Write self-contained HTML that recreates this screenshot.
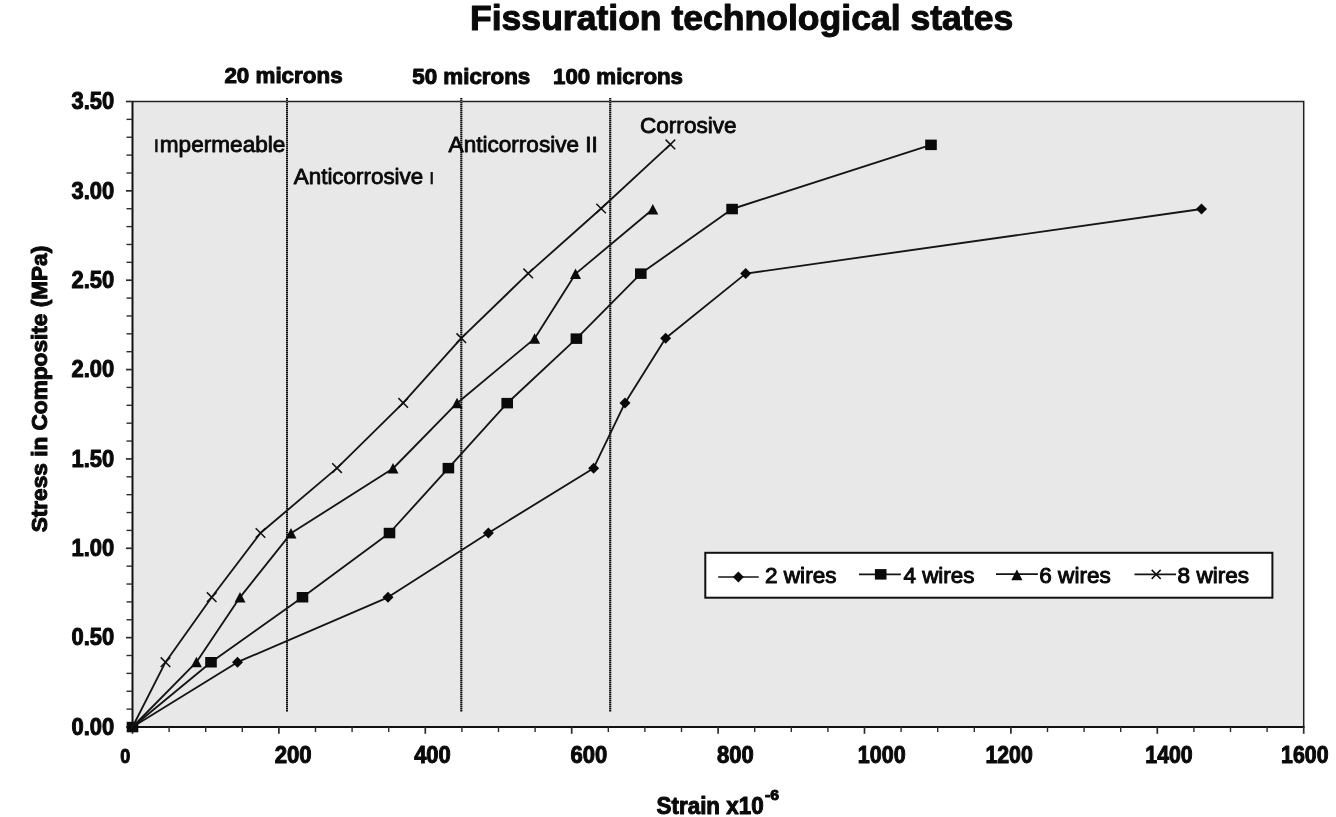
<!DOCTYPE html>
<html><head><meta charset="utf-8"><title>Fissuration technological states</title>
<style>html,body{margin:0;padding:0;background:#fff;}body{width:1336px;height:817px;overflow:hidden;}svg{display:block;filter:blur(0.45px);}text{font-family:"Liberation Sans", sans-serif;fill:#0a0a0a;stroke:#0a0a0a;stroke-width:0.85px;stroke-linejoin:round;}text.b{stroke-width:1.0px;}</style></head><body>
<svg width="1336" height="817" viewBox="0 0 1336 817">
<rect x="0" y="0" width="1336" height="817" fill="#ffffff"/>
<rect x="132.5" y="101.5" width="1171.2" height="625.5" fill="#e8e8e8"/>
<path d="M132.5,101.5 H1303.7 V727.0" fill="none" stroke="#222" stroke-width="1.5"/>
<line x1="287.0" y1="98" x2="287.0" y2="712" stroke="#707070" stroke-width="2"/>
<line x1="287.0" y1="98" x2="287.0" y2="712" stroke="#111" stroke-width="2" stroke-dasharray="1 1"/>
<line x1="461.3" y1="98" x2="461.3" y2="712" stroke="#707070" stroke-width="2"/>
<line x1="461.3" y1="98" x2="461.3" y2="712" stroke="#111" stroke-width="2" stroke-dasharray="1 1"/>
<line x1="610.2" y1="98" x2="610.2" y2="712" stroke="#707070" stroke-width="2"/>
<line x1="610.2" y1="98" x2="610.2" y2="712" stroke="#111" stroke-width="2" stroke-dasharray="1 1"/>
<line x1="132.5" y1="101.0" x2="132.5" y2="728.0" stroke="#111" stroke-width="2"/>
<line x1="131.5" y1="727.0" x2="1304.5" y2="727.0" stroke="#111" stroke-width="2"/>
<line x1="126.0" y1="727.00" x2="132.5" y2="727.00" stroke="#2c2c2c" stroke-width="1.7"/>
<line x1="126.5" y1="709.13" x2="132.5" y2="709.13" stroke="#2c2c2c" stroke-width="1.4"/>
<line x1="126.5" y1="691.26" x2="132.5" y2="691.26" stroke="#2c2c2c" stroke-width="1.4"/>
<line x1="126.5" y1="673.39" x2="132.5" y2="673.39" stroke="#2c2c2c" stroke-width="1.4"/>
<line x1="126.5" y1="655.51" x2="132.5" y2="655.51" stroke="#2c2c2c" stroke-width="1.4"/>
<line x1="126.0" y1="637.64" x2="132.5" y2="637.64" stroke="#2c2c2c" stroke-width="1.7"/>
<line x1="126.5" y1="619.77" x2="132.5" y2="619.77" stroke="#2c2c2c" stroke-width="1.4"/>
<line x1="126.5" y1="601.90" x2="132.5" y2="601.90" stroke="#2c2c2c" stroke-width="1.4"/>
<line x1="126.5" y1="584.03" x2="132.5" y2="584.03" stroke="#2c2c2c" stroke-width="1.4"/>
<line x1="126.5" y1="566.16" x2="132.5" y2="566.16" stroke="#2c2c2c" stroke-width="1.4"/>
<line x1="126.0" y1="548.29" x2="132.5" y2="548.29" stroke="#2c2c2c" stroke-width="1.7"/>
<line x1="126.5" y1="530.41" x2="132.5" y2="530.41" stroke="#2c2c2c" stroke-width="1.4"/>
<line x1="126.5" y1="512.54" x2="132.5" y2="512.54" stroke="#2c2c2c" stroke-width="1.4"/>
<line x1="126.5" y1="494.67" x2="132.5" y2="494.67" stroke="#2c2c2c" stroke-width="1.4"/>
<line x1="126.5" y1="476.80" x2="132.5" y2="476.80" stroke="#2c2c2c" stroke-width="1.4"/>
<line x1="126.0" y1="458.93" x2="132.5" y2="458.93" stroke="#2c2c2c" stroke-width="1.7"/>
<line x1="126.5" y1="441.06" x2="132.5" y2="441.06" stroke="#2c2c2c" stroke-width="1.4"/>
<line x1="126.5" y1="423.19" x2="132.5" y2="423.19" stroke="#2c2c2c" stroke-width="1.4"/>
<line x1="126.5" y1="405.31" x2="132.5" y2="405.31" stroke="#2c2c2c" stroke-width="1.4"/>
<line x1="126.5" y1="387.44" x2="132.5" y2="387.44" stroke="#2c2c2c" stroke-width="1.4"/>
<line x1="126.0" y1="369.57" x2="132.5" y2="369.57" stroke="#2c2c2c" stroke-width="1.7"/>
<line x1="126.5" y1="351.70" x2="132.5" y2="351.70" stroke="#2c2c2c" stroke-width="1.4"/>
<line x1="126.5" y1="333.83" x2="132.5" y2="333.83" stroke="#2c2c2c" stroke-width="1.4"/>
<line x1="126.5" y1="315.96" x2="132.5" y2="315.96" stroke="#2c2c2c" stroke-width="1.4"/>
<line x1="126.5" y1="298.09" x2="132.5" y2="298.09" stroke="#2c2c2c" stroke-width="1.4"/>
<line x1="126.0" y1="280.21" x2="132.5" y2="280.21" stroke="#2c2c2c" stroke-width="1.7"/>
<line x1="126.5" y1="262.34" x2="132.5" y2="262.34" stroke="#2c2c2c" stroke-width="1.4"/>
<line x1="126.5" y1="244.47" x2="132.5" y2="244.47" stroke="#2c2c2c" stroke-width="1.4"/>
<line x1="126.5" y1="226.60" x2="132.5" y2="226.60" stroke="#2c2c2c" stroke-width="1.4"/>
<line x1="126.5" y1="208.73" x2="132.5" y2="208.73" stroke="#2c2c2c" stroke-width="1.4"/>
<line x1="126.0" y1="190.86" x2="132.5" y2="190.86" stroke="#2c2c2c" stroke-width="1.7"/>
<line x1="126.5" y1="172.99" x2="132.5" y2="172.99" stroke="#2c2c2c" stroke-width="1.4"/>
<line x1="126.5" y1="155.11" x2="132.5" y2="155.11" stroke="#2c2c2c" stroke-width="1.4"/>
<line x1="126.5" y1="137.24" x2="132.5" y2="137.24" stroke="#2c2c2c" stroke-width="1.4"/>
<line x1="126.5" y1="119.37" x2="132.5" y2="119.37" stroke="#2c2c2c" stroke-width="1.4"/>
<line x1="126.0" y1="101.50" x2="132.5" y2="101.50" stroke="#2c2c2c" stroke-width="1.7"/>
<line x1="132.50" y1="727.0" x2="132.50" y2="733.8" stroke="#2c2c2c" stroke-width="1.7"/>
<line x1="169.10" y1="727.0" x2="169.10" y2="732.0" stroke="#2c2c2c" stroke-width="1.4"/>
<line x1="205.70" y1="727.0" x2="205.70" y2="732.0" stroke="#2c2c2c" stroke-width="1.4"/>
<line x1="242.30" y1="727.0" x2="242.30" y2="732.0" stroke="#2c2c2c" stroke-width="1.4"/>
<line x1="278.90" y1="727.0" x2="278.90" y2="733.8" stroke="#2c2c2c" stroke-width="1.7"/>
<line x1="315.50" y1="727.0" x2="315.50" y2="732.0" stroke="#2c2c2c" stroke-width="1.4"/>
<line x1="352.10" y1="727.0" x2="352.10" y2="732.0" stroke="#2c2c2c" stroke-width="1.4"/>
<line x1="388.70" y1="727.0" x2="388.70" y2="732.0" stroke="#2c2c2c" stroke-width="1.4"/>
<line x1="425.30" y1="727.0" x2="425.30" y2="733.8" stroke="#2c2c2c" stroke-width="1.7"/>
<line x1="461.90" y1="727.0" x2="461.90" y2="732.0" stroke="#2c2c2c" stroke-width="1.4"/>
<line x1="498.50" y1="727.0" x2="498.50" y2="732.0" stroke="#2c2c2c" stroke-width="1.4"/>
<line x1="535.10" y1="727.0" x2="535.10" y2="732.0" stroke="#2c2c2c" stroke-width="1.4"/>
<line x1="571.70" y1="727.0" x2="571.70" y2="733.8" stroke="#2c2c2c" stroke-width="1.7"/>
<line x1="608.30" y1="727.0" x2="608.30" y2="732.0" stroke="#2c2c2c" stroke-width="1.4"/>
<line x1="644.90" y1="727.0" x2="644.90" y2="732.0" stroke="#2c2c2c" stroke-width="1.4"/>
<line x1="681.50" y1="727.0" x2="681.50" y2="732.0" stroke="#2c2c2c" stroke-width="1.4"/>
<line x1="718.10" y1="727.0" x2="718.10" y2="733.8" stroke="#2c2c2c" stroke-width="1.7"/>
<line x1="754.70" y1="727.0" x2="754.70" y2="732.0" stroke="#2c2c2c" stroke-width="1.4"/>
<line x1="791.30" y1="727.0" x2="791.30" y2="732.0" stroke="#2c2c2c" stroke-width="1.4"/>
<line x1="827.90" y1="727.0" x2="827.90" y2="732.0" stroke="#2c2c2c" stroke-width="1.4"/>
<line x1="864.50" y1="727.0" x2="864.50" y2="733.8" stroke="#2c2c2c" stroke-width="1.7"/>
<line x1="901.10" y1="727.0" x2="901.10" y2="732.0" stroke="#2c2c2c" stroke-width="1.4"/>
<line x1="937.70" y1="727.0" x2="937.70" y2="732.0" stroke="#2c2c2c" stroke-width="1.4"/>
<line x1="974.30" y1="727.0" x2="974.30" y2="732.0" stroke="#2c2c2c" stroke-width="1.4"/>
<line x1="1010.90" y1="727.0" x2="1010.90" y2="733.8" stroke="#2c2c2c" stroke-width="1.7"/>
<line x1="1047.50" y1="727.0" x2="1047.50" y2="732.0" stroke="#2c2c2c" stroke-width="1.4"/>
<line x1="1084.10" y1="727.0" x2="1084.10" y2="732.0" stroke="#2c2c2c" stroke-width="1.4"/>
<line x1="1120.70" y1="727.0" x2="1120.70" y2="732.0" stroke="#2c2c2c" stroke-width="1.4"/>
<line x1="1157.30" y1="727.0" x2="1157.30" y2="733.8" stroke="#2c2c2c" stroke-width="1.7"/>
<line x1="1193.90" y1="727.0" x2="1193.90" y2="732.0" stroke="#2c2c2c" stroke-width="1.4"/>
<line x1="1230.50" y1="727.0" x2="1230.50" y2="732.0" stroke="#2c2c2c" stroke-width="1.4"/>
<line x1="1267.10" y1="727.0" x2="1267.10" y2="732.0" stroke="#2c2c2c" stroke-width="1.4"/>
<line x1="1303.70" y1="727.0" x2="1303.70" y2="733.8" stroke="#2c2c2c" stroke-width="1.7"/>
<text x="114.2" y="734.6" font-size="23.2" class="b" font-weight="bold" text-anchor="end" textLength="42.7" lengthAdjust="spacingAndGlyphs">0.00</text>
<text x="114.2" y="645.2" font-size="23.2" class="b" font-weight="bold" text-anchor="end" textLength="42.7" lengthAdjust="spacingAndGlyphs">0.50</text>
<text x="114.2" y="555.9" font-size="23.2" class="b" font-weight="bold" text-anchor="end" textLength="42.7" lengthAdjust="spacingAndGlyphs">1.00</text>
<text x="114.2" y="466.5" font-size="23.2" class="b" font-weight="bold" text-anchor="end" textLength="42.7" lengthAdjust="spacingAndGlyphs">1.50</text>
<text x="114.2" y="377.2" font-size="23.2" class="b" font-weight="bold" text-anchor="end" textLength="42.7" lengthAdjust="spacingAndGlyphs">2.00</text>
<text x="114.2" y="287.8" font-size="23.2" class="b" font-weight="bold" text-anchor="end" textLength="42.7" lengthAdjust="spacingAndGlyphs">2.50</text>
<text x="114.2" y="198.5" font-size="23.2" class="b" font-weight="bold" text-anchor="end" textLength="42.7" lengthAdjust="spacingAndGlyphs">3.00</text>
<text x="114.2" y="109.1" font-size="23.2" class="b" font-weight="bold" text-anchor="end" textLength="42.7" lengthAdjust="spacingAndGlyphs">3.50</text>
<text x="125.2" y="763" font-size="20" class="b" font-weight="bold" text-anchor="middle" textLength="10" lengthAdjust="spacingAndGlyphs">0</text>
<text x="293.2" y="763" font-size="23.2" class="b" font-weight="bold" text-anchor="middle" textLength="37" lengthAdjust="spacingAndGlyphs">200</text>
<text x="432.5" y="763" font-size="23.2" class="b" font-weight="bold" text-anchor="middle" textLength="36.7" lengthAdjust="spacingAndGlyphs">400</text>
<text x="588.8" y="763" font-size="23.2" class="b" font-weight="bold" text-anchor="middle" textLength="36.7" lengthAdjust="spacingAndGlyphs">600</text>
<text x="735.4" y="763" font-size="23.2" class="b" font-weight="bold" text-anchor="middle" textLength="36.7" lengthAdjust="spacingAndGlyphs">800</text>
<text x="881.7" y="763" font-size="23.2" class="b" font-weight="bold" text-anchor="middle" textLength="47.8" lengthAdjust="spacingAndGlyphs">1000</text>
<text x="1009.1" y="763" font-size="23.2" class="b" font-weight="bold" text-anchor="middle" textLength="47.4" lengthAdjust="spacingAndGlyphs">1200</text>
<text x="1169" y="763" font-size="23.2" class="b" font-weight="bold" text-anchor="middle" textLength="47.4" lengthAdjust="spacingAndGlyphs">1400</text>
<text x="1304.8" y="763" font-size="23.2" class="b" font-weight="bold" text-anchor="middle" textLength="47.4" lengthAdjust="spacingAndGlyphs">1600</text>
<text x="470" y="30" font-size="34.2" class="b" font-weight="bold" textLength="543.2" lengthAdjust="spacingAndGlyphs">Fissuration technological states</text>
<text x="224.4" y="82.5" font-size="21.7" class="b" font-weight="bold" textLength="118.2" lengthAdjust="spacingAndGlyphs">20 microns</text>
<text x="412.3" y="84" font-size="21.7" class="b" font-weight="bold" textLength="118" lengthAdjust="spacingAndGlyphs">50 microns</text>
<text x="553" y="84" font-size="21.7" class="b" font-weight="bold" textLength="130" lengthAdjust="spacingAndGlyphs">100 microns</text>
<text x="656.6" y="813.9" font-size="23.2" class="b" font-weight="bold" textLength="107" lengthAdjust="spacingAndGlyphs">Strain x10</text>
<text x="765" y="800.2" font-size="14.5" class="b" font-weight="bold" textLength="14" lengthAdjust="spacingAndGlyphs">-6</text>
<text transform="translate(47,532.3) rotate(-90)" x="0" y="0" font-size="21.7" class="b" font-weight="bold" textLength="286.5" lengthAdjust="spacingAndGlyphs">Stress in Composite (MPa)</text>
<rect x="155.2" y="139.2" width="2.4" height="13" fill="#111"/>
<text x="159.8" y="152.2" font-size="22.6" textLength="125.6" lengthAdjust="spacingAndGlyphs">mpermeable</text>
<text x="293.8" y="184.2" font-size="22.6" textLength="129.4" lengthAdjust="spacingAndGlyphs">Anticorrosive</text>
<rect x="430.6" y="172" width="2.2" height="12.3" fill="#111"/>
<text x="448.6" y="152.1" font-size="22.6" textLength="149.3" lengthAdjust="spacingAndGlyphs">Anticorrosive II</text>
<text x="640" y="133.2" font-size="22.6" textLength="96.6" lengthAdjust="spacingAndGlyphs">Corrosive</text>
<polyline points="132.5,727.0 237.5,662.2 388.0,597.3 488.4,533.0 593.6,468.2 625.0,402.9 665.6,338.3 745.7,273.6 1201.5,209.0" fill="none" stroke="#151515" stroke-width="1.85" stroke-linejoin="round"/>
<path d="M127.0,727.0 L132.5,721.5 L138.0,727.0 L132.5,732.5 Z" fill="#0a0a0a"/>
<path d="M232.0,662.2 L237.5,656.7 L243.0,662.2 L237.5,667.7 Z" fill="#0a0a0a"/>
<path d="M382.5,597.3 L388.0,591.8 L393.5,597.3 L388.0,602.8 Z" fill="#0a0a0a"/>
<path d="M482.9,533.0 L488.4,527.5 L493.9,533.0 L488.4,538.5 Z" fill="#0a0a0a"/>
<path d="M588.1,468.2 L593.6,462.7 L599.1,468.2 L593.6,473.7 Z" fill="#0a0a0a"/>
<path d="M619.5,402.9 L625.0,397.4 L630.5,402.9 L625.0,408.4 Z" fill="#0a0a0a"/>
<path d="M660.1,338.3 L665.6,332.8 L671.1,338.3 L665.6,343.8 Z" fill="#0a0a0a"/>
<path d="M740.2,273.6 L745.7,268.1 L751.2,273.6 L745.7,279.1 Z" fill="#0a0a0a"/>
<path d="M1196.0,209.0 L1201.5,203.5 L1207.0,209.0 L1201.5,214.5 Z" fill="#0a0a0a"/>
<polyline points="132.5,727.0 211.0,662.2 302.5,597.3 389.5,533.0 448.4,468.2 507.2,403.2 576.4,338.6 640.8,273.6 732.1,209.0 931.0,144.8" fill="none" stroke="#151515" stroke-width="1.85" stroke-linejoin="round"/>
<rect x="126.7" y="721.8" width="11.6" height="10.5" fill="#0a0a0a"/>
<rect x="205.2" y="657.0" width="11.6" height="10.5" fill="#0a0a0a"/>
<rect x="296.7" y="592.0" width="11.6" height="10.5" fill="#0a0a0a"/>
<rect x="383.7" y="527.8" width="11.6" height="10.5" fill="#0a0a0a"/>
<rect x="442.6" y="462.9" width="11.6" height="10.5" fill="#0a0a0a"/>
<rect x="501.4" y="397.9" width="11.6" height="10.5" fill="#0a0a0a"/>
<rect x="570.6" y="333.4" width="11.6" height="10.5" fill="#0a0a0a"/>
<rect x="635.0" y="268.4" width="11.6" height="10.5" fill="#0a0a0a"/>
<rect x="726.3" y="203.8" width="11.6" height="10.5" fill="#0a0a0a"/>
<rect x="925.2" y="139.6" width="11.6" height="10.5" fill="#0a0a0a"/>
<polyline points="132.5,727.0 196.4,662.2 240.0,597.3 291.0,533.3 393.0,468.5 457.0,403.2 534.6,338.6 575.5,273.9 652.8,209.3" fill="none" stroke="#151515" stroke-width="1.85" stroke-linejoin="round"/>
<path d="M127.0,732.1 L132.5,721.6 L138.0,732.1 Z" fill="#0a0a0a"/>
<path d="M190.9,667.3 L196.4,656.8 L201.9,667.3 Z" fill="#0a0a0a"/>
<path d="M234.5,602.4 L240.0,591.9 L245.5,602.4 Z" fill="#0a0a0a"/>
<path d="M285.5,538.4 L291.0,527.9 L296.5,538.4 Z" fill="#0a0a0a"/>
<path d="M387.5,473.6 L393.0,463.1 L398.5,473.6 Z" fill="#0a0a0a"/>
<path d="M451.5,408.3 L457.0,397.8 L462.5,408.3 Z" fill="#0a0a0a"/>
<path d="M529.1,343.7 L534.6,333.2 L540.1,343.7 Z" fill="#0a0a0a"/>
<path d="M570.0,279.0 L575.5,268.5 L581.0,279.0 Z" fill="#0a0a0a"/>
<path d="M647.3,214.4 L652.8,203.9 L658.3,214.4 Z" fill="#0a0a0a"/>
<polyline points="132.5,727.0 165.5,662.2 211.7,597.2 260.5,533.0 337.0,468.1 403.2,402.9 461.3,338.2 528.2,273.4 601.1,208.5 670.4,144.4" fill="none" stroke="#151515" stroke-width="1.85" stroke-linejoin="round"/>
<path d="M127.7,722.2 L137.3,731.8 M127.7,731.8 L137.3,722.2" stroke="#111" stroke-width="1.5" fill="none"/>
<path d="M160.7,657.4 L170.3,667.0 M160.7,667.0 L170.3,657.4" stroke="#111" stroke-width="1.5" fill="none"/>
<path d="M206.9,592.4 L216.5,602.0 M206.9,602.0 L216.5,592.4" stroke="#111" stroke-width="1.5" fill="none"/>
<path d="M255.7,528.2 L265.3,537.8 M255.7,537.8 L265.3,528.2" stroke="#111" stroke-width="1.5" fill="none"/>
<path d="M332.2,463.3 L341.8,472.9 M332.2,472.9 L341.8,463.3" stroke="#111" stroke-width="1.5" fill="none"/>
<path d="M398.4,398.1 L408.0,407.7 M398.4,407.7 L408.0,398.1" stroke="#111" stroke-width="1.5" fill="none"/>
<path d="M456.5,333.4 L466.1,343.0 M456.5,343.0 L466.1,333.4" stroke="#111" stroke-width="1.5" fill="none"/>
<path d="M523.4,268.6 L533.0,278.2 M523.4,278.2 L533.0,268.6" stroke="#111" stroke-width="1.5" fill="none"/>
<path d="M596.3,203.7 L605.9,213.3 M596.3,213.3 L605.9,203.7" stroke="#111" stroke-width="1.5" fill="none"/>
<path d="M665.6,139.6 L675.2,149.2 M665.6,149.2 L675.2,139.6" stroke="#111" stroke-width="1.5" fill="none"/>
<rect x="705.3" y="552.8" width="567.1" height="44.9" fill="#ffffff" stroke="#111" stroke-width="2"/>
<line x1="718.2" y1="577" x2="758.7" y2="577" stroke="#151515" stroke-width="1.7"/>
<path d="M732.9,577.0 L738.4,571.5 L743.9,577.0 L738.4,582.5 Z" fill="#0a0a0a"/>
<text x="765.0" y="582.5" font-size="22.4" style="stroke-width:1px" textLength="71.5" lengthAdjust="spacingAndGlyphs">2 wires</text>
<line x1="859" y1="574.4" x2="900.9" y2="574.4" stroke="#151515" stroke-width="1.7"/>
<rect x="874.9" y="569.1" width="11.6" height="10.5" fill="#0a0a0a"/>
<text x="903.5" y="582.5" font-size="22.4" style="stroke-width:1px" textLength="71" lengthAdjust="spacingAndGlyphs">4 wires</text>
<line x1="996" y1="574.2" x2="1037.9" y2="574.2" stroke="#151515" stroke-width="1.7"/>
<path d="M1011.3,580.2 L1016.9,569.5 L1022.5,580.2 Z" fill="#0a0a0a"/>
<text x="1039.3" y="582.5" font-size="22.4" style="stroke-width:1px" textLength="71.5" lengthAdjust="spacingAndGlyphs">6 wires</text>
<line x1="1134.5" y1="574.4" x2="1176" y2="574.4" stroke="#151515" stroke-width="1.7"/>
<path d="M1151.7,569.9 L1160.7,578.9 M1151.7,578.9 L1160.7,569.9" stroke="#111" stroke-width="1.5" fill="none"/>
<text x="1177.6" y="582.5" font-size="22.4" style="stroke-width:1px" textLength="71.5" lengthAdjust="spacingAndGlyphs">8 wires</text>
</svg></body></html>
